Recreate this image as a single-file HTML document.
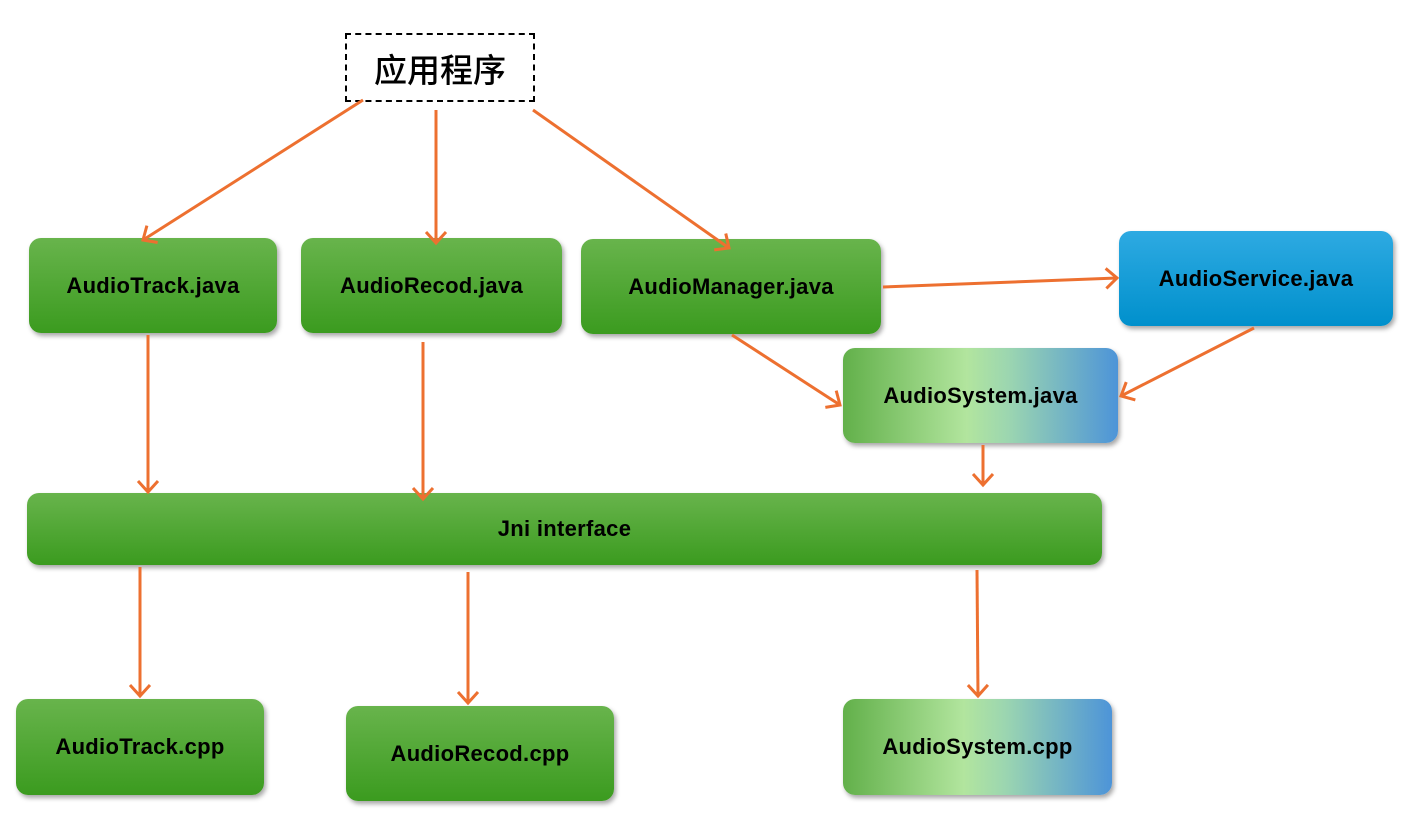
<!DOCTYPE html>
<html><head><meta charset="utf-8"><style>
body{margin:0;width:1408px;height:815px;background:#fff;position:relative;overflow:hidden;font-family:"Liberation Sans","Noto Sans CJK SC",sans-serif}
.b{position:absolute;border-radius:12px;background:linear-gradient(#68b44c,#3b9b1f);box-shadow:2px 3px 5px rgba(0,0,0,.35);display:flex;align-items:center;justify-content:center;font-weight:bold;font-size:22px;color:#000;letter-spacing:0.3px}
.g{background:linear-gradient(90deg,#62b04a 0%,#b2e59e 45%,#9cd6b0 60%,#4d94d8 100%)}
.s{background:linear-gradient(#2eaae2,#0090cc)}
#app{position:absolute;left:345px;top:33px;width:186px;height:65px;border:2px dashed #000;display:flex;align-items:center;justify-content:center;font-size:33px;font-family:"Noto Sans CJK SC",sans-serif;font-weight:500}
svg{position:absolute;left:0;top:0}
</style></head><body>
<div id="app">应用程序</div>
<div class="b" style="left:29px;top:238px;width:248px;height:95px">AudioTrack.java</div>
<div class="b" style="left:301px;top:238px;width:261px;height:95px">AudioRecod.java</div>
<div class="b" style="left:581px;top:239px;width:300px;height:95px">AudioManager.java</div>
<div class="b s" style="left:1119px;top:231px;width:274px;height:95px">AudioService.java</div>
<div class="b g" style="left:843px;top:348px;width:275px;height:95px">AudioSystem.java</div>
<div class="b" style="left:27px;top:493px;width:1075px;height:72px">Jni interface</div>
<div class="b" style="left:16px;top:699px;width:248px;height:96px">AudioTrack.cpp</div>
<div class="b" style="left:346px;top:706px;width:268px;height:95px">AudioRecod.cpp</div>
<div class="b g" style="left:843px;top:699px;width:269px;height:96px">AudioSystem.cpp</div>
<svg width="1408" height="815">
<defs><marker id="a" markerWidth="24" markerHeight="24" refX="20" refY="12" orient="auto" markerUnits="userSpaceOnUse"><path d="M9,2 L20,12 L9,22" fill="none" stroke="#ed7030" stroke-width="3"/></marker></defs>
<g stroke="#ed7030" stroke-width="3" fill="none" marker-end="url(#a)">
<line x1="363" y1="100" x2="143" y2="240"/>
<line x1="436" y1="110" x2="436" y2="243"/>
<line x1="533" y1="110" x2="729" y2="248"/>
<line x1="883" y1="287" x2="1117" y2="278"/>
<line x1="148" y1="335" x2="148" y2="492"/>
<line x1="423" y1="342" x2="423" y2="499"/>
<line x1="732" y1="335" x2="840" y2="405"/>
<line x1="1254" y1="328" x2="1121" y2="396"/>
<line x1="983" y1="445" x2="983" y2="485"/>
<line x1="140" y1="567" x2="140" y2="696"/>
<line x1="468" y1="572" x2="468" y2="703"/>
<line x1="977" y1="570" x2="978" y2="696"/>
</g></svg>
</body></html>
